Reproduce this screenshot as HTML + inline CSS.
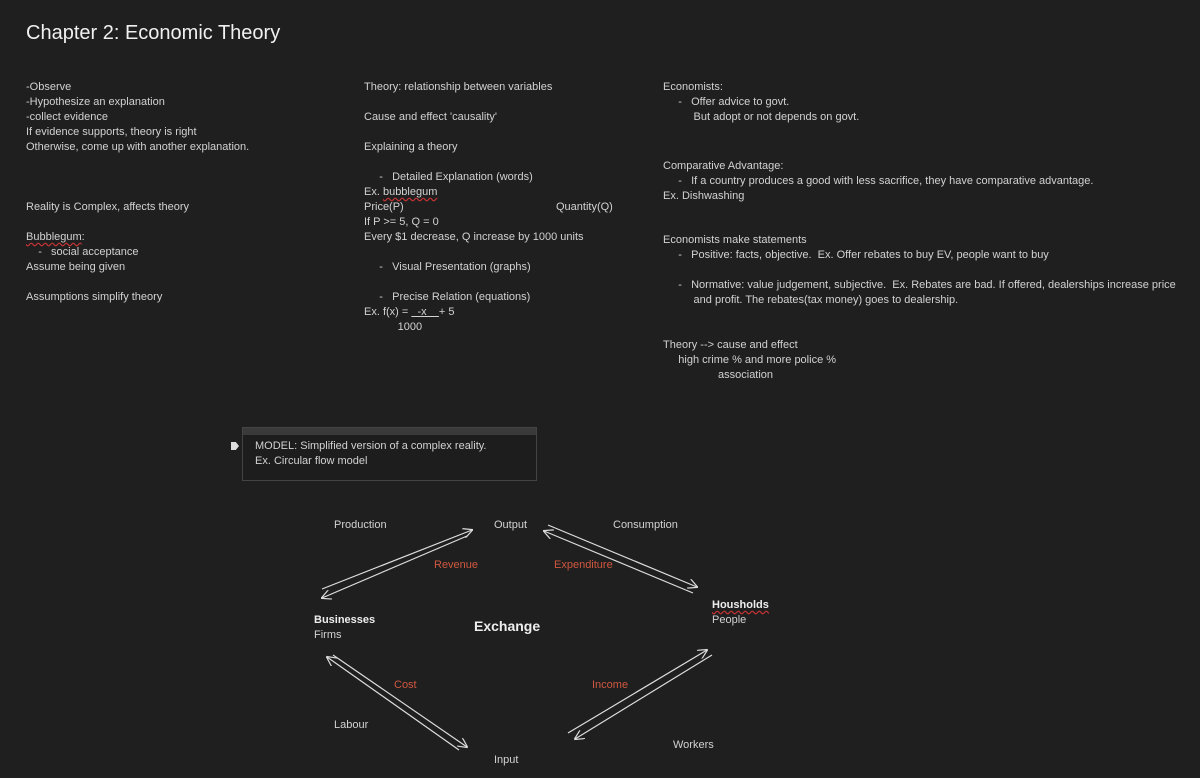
<!DOCTYPE html>
<html><head><meta charset="utf-8"><style>
body{margin:0;width:1200px;height:778px;background:#1f1f1f;overflow:hidden;position:relative;font-family:"Liberation Sans",sans-serif;color:#d2d2d2;font-size:11px}
.t{position:absolute;line-height:15px;white-space:pre}
.r{color:#d0583f}
.b{font-weight:bold;color:#eee}
u{text-decoration:underline wavy #c33;text-underline-offset:2px}
</style></head><body>
<div class="t" style="left:26px;top:20px;font-size:20px;line-height:26px;color:#f0f0f0">Chapter 2: Economic Theory</div>
<div class="t" style="left:26px;top:80px">-Observe
-Hypothesize an explanation
-collect evidence
If evidence supports, theory is right
Otherwise, come up with another explanation.



Reality is Complex, affects theory

<u>Bubblegum</u>:
    -   social acceptance
Assume being given

Assumptions simplify theory</div>
<div class="t" style="left:364px;top:80px">Theory: relationship between variables

Cause and effect 'causality'

Explaining a theory

     -   Detailed Explanation (words)
Ex. <u>bubblegum</u>
Price(P)
If P &gt;= 5, Q = 0
Every $1 decrease, Q increase by 1000 units

     -   Visual Presentation (graphs)

     -   Precise Relation (equations)
Ex. f(x) = <span style="text-decoration:underline">  -x    </span>+ 5
           1000</div>
<div class="t" style="left:556px;top:200px">Quantity(Q)</div>
<div class="t" style="left:663px;top:80px">Economists:
     -   Offer advice to govt.
          But adopt or not depends on govt.</div>
<div class="t" style="left:663px;top:159px">Comparative Advantage:
     -   If a country produces a good with less sacrifice, they have comparative advantage.
Ex. Dishwashing</div>
<div class="t" style="left:663px;top:233px">Economists make statements
     -   Positive: facts, objective.  Ex. Offer rebates to buy EV, people want to buy

     -   Normative: value judgement, subjective.  Ex. Rebates are bad. If offered, dealerships increase price
          and profit. The rebates(tax money) goes to dealership.</div>
<div class="t" style="left:663px;top:338px">Theory --&gt; cause and effect
     high crime % and more police %
                  association</div>
<div style="position:absolute;left:242px;top:427px;width:293px;height:52px;border:1px solid #444;background:#1d1d1d"><div style="height:7px;background:#3a3a3a"></div></div>
<div style="position:absolute;left:231px;top:442px;width:8px;height:8px;background:#ddd;clip-path:polygon(0 0,60% 0,100% 50%,60% 100%,0 100%)"></div>
<div class="t" style="left:255px;top:439px">MODEL: Simplified version of a complex reality.
Ex. Circular flow model</div>
<div class="t" style="left:334px;top:518px">Production</div>
<div class="t" style="left:494px;top:518px">Output</div>
<div class="t" style="left:613px;top:518px">Consumption</div>
<div class="t r" style="left:434px;top:558px">Revenue</div>
<div class="t r" style="left:554px;top:558px">Expenditure</div>
<div class="t" style="left:712px;top:598px"><span class="b"><u>Housholds</u></span>
People</div>
<div class="t" style="left:314px;top:613px"><span class="b">Businesses</span>
Firms</div>
<div class="t b" style="left:474px;top:619px;font-size:14px">Exchange</div>
<div class="t r" style="left:394px;top:678px">Cost</div>
<div class="t r" style="left:592px;top:678px">Income</div>
<div class="t" style="left:334px;top:718px">Labour</div>
<div class="t" style="left:673px;top:738px">Workers</div>
<div class="t" style="left:494px;top:753px">Input</div>
<svg width="1200" height="778" style="position:absolute;left:0;top:0" fill="none" stroke="#ddd" stroke-width="1.2">
<defs><marker id="a" viewBox="0 0 10 10" refX="9" refY="5" markerWidth="10" markerHeight="10" orient="auto" markerUnits="userSpaceOnUse"><path d="M0 0L10 5L0 10" stroke="#ddd" fill="none" stroke-width="1.2"/></marker></defs>
<g marker-end="url(#a)">
<line x1="322" y1="589" x2="472" y2="530"/>
<line x1="467" y1="536" x2="322" y2="598"/>
<line x1="548" y1="525" x2="697" y2="587"/>
<line x1="693" y1="593" x2="544" y2="531"/>
<line x1="333" y1="655" x2="467" y2="747"/>
<line x1="459" y1="750" x2="327" y2="657"/>
<line x1="568" y1="733" x2="707" y2="650"/>
<line x1="712" y1="655" x2="575" y2="739"/>
</g></svg>
</body></html>
